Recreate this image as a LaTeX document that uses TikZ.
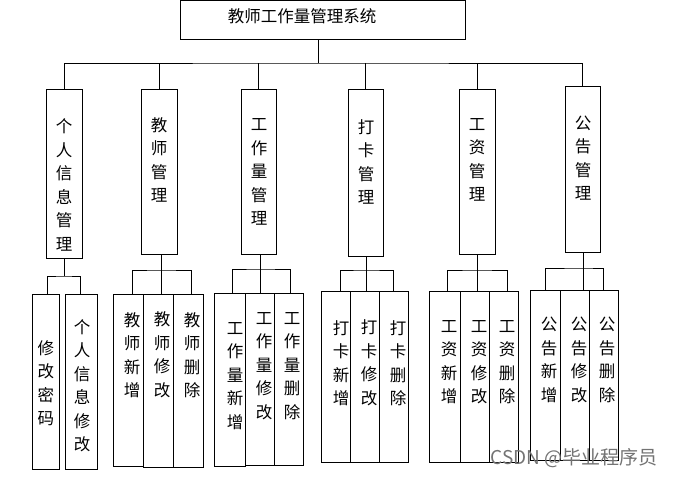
\documentclass[tikz,border=0pt]{standalone}
\usepackage{fontspec}
\setmainfont{Noto Sans CJK SC}
\newfontfamily\wm{Noto Sans CJK SC}
\begin{document}
\begin{tikzpicture}[x=1pt,y=-1pt,
  bx/.style={draw,line width=0.9pt,inner sep=0pt},
  lbl/.style={font=\fontsize{16.5}{23.5}\selectfont,align=center,inner sep=0pt},
  ln/.style={line width=0.9pt}]
\useasboundingbox (0,0) rectangle (675,478);
\newcommand\bxx[6]{%
  \node[bx,minimum width={#4-#2},minimum height={#5-#3}] (#1) at ({(#2+#4)/2},{(#3+#5)/2}) {};}
% root
\bxx{root}{180}{0}{465}{39}{}
\node[lbl] (rt) at (302,16) {教师工作量管理系统};
% level 1
\bxx{a}{46}{89}{82}{258}{}
\bxx{b}{141}{89}{177}{254}{}
\bxx{c}{241}{89}{276}{254}{}
\bxx{d}{348}{89}{383}{256}{}
\bxx{e}{459}{89}{495}{254}{}
\bxx{f}{565}{86}{600}{252}{}
\node[lbl] (at) at (64,185) {个\\人\\信\\息\\管\\理};
\node[lbl] (bt) at (159,160) {教\\师\\管\\理};
\node[lbl] (ct) at (259,172) {工\\作\\量\\管\\理};
\node[lbl] (dt) at (366,162) {打\\卡\\管\\理};
\node[lbl] (et) at (477,160) {工\\资\\管\\理};
\node[lbl] (ft) at (583,158) {公\\告\\管\\理};
% bar from root
\coordinate (r0) at (318,63);
\draw[ln] (root.south -| r0) -- (r0);
\draw[ln] (a.north) |- (r0) -| (f.north);
\foreach \n in {b,c,d,e} \draw[ln] (\n.north) -- (\n.north |- r0);
% level 2
\bxx{a1}{32}{294}{59}{469}{}
\bxx{a2}{65}{294}{97}{469}{}
\bxx{b1}{113}{294}{143}{466}{}
\bxx{b2}{143}{294}{173}{467}{}
\bxx{b3}{173}{294}{203}{467}{}
\bxx{c1}{214}{293}{245}{466}{}
\bxx{c2}{245}{293}{274}{465}{}
\bxx{c3}{274}{293}{303}{465}{}
\bxx{d1}{321}{291}{350}{462}{}
\bxx{d2}{350}{291}{379}{462}{}
\bxx{d3}{379}{291}{408}{462}{}
\bxx{e1}{429}{291}{460}{462}{}
\bxx{e2}{460}{291}{489}{462}{}
\bxx{e3}{489}{291}{518}{462}{}
\bxx{f1}{530}{290}{560}{460}{}
\bxx{f2}{560}{290}{589}{460}{}
\bxx{f3}{589}{290}{618}{460}{}
\node[lbl] at (46,383) {修\\改\\密\\码};
\node[lbl] at (82,386) {个\\人\\信\\息\\修\\改};
\node[lbl] at (132,355) {教\\师\\新\\增};
\node[lbl] at (162,355) {教\\师\\修\\改};
\node[lbl] at (192,355) {教\\师\\删\\除};
\node[lbl] at (235,376) {工\\作\\量\\新\\增};
\node[lbl] at (264,366) {工\\作\\量\\修\\改};
\node[lbl] at (292,366) {工\\作\\量\\删\\除};
\node[lbl] at (341,363) {打\\卡\\新\\增};
\node[lbl] at (369,363) {打\\卡\\修\\改};
\node[lbl] at (398,363) {打\\卡\\删\\除};
\node[lbl] at (449,362) {工\\资\\新\\增};
\node[lbl] at (479,362) {工\\资\\修\\改};
\node[lbl] at (507,362) {工\\资\\删\\除};
\node[lbl] at (549,360) {公\\告\\新\\增};
\node[lbl] at (579,360) {公\\告\\修\\改};
\node[lbl] at (607,360) {公\\告\\删\\除};
% level-2 connectors
\coordinate (ja) at (64,276);
\draw[ln] (ja |- a.south) -- (ja);
\draw[ln] (47,294) |- (ja) -| (80,294);
\coordinate (jb) at (161,270);
\draw[ln] (jb |- b.south) -- (b2.north -| jb);
\draw[ln] (132,294) |- (jb) -| (191,294);
\coordinate (jc) at (260,269);
\draw[ln] (jc |- c.south) -- (c2.north -| jc);
\draw[ln] (232,293) |- (jc) -| (290,293);
\coordinate (jd) at (366,270);
\draw[ln] (jd |- d.south) -- (d2.north -| jd);
\draw[ln] (340,291) |- (jd) -| (393,291);
\coordinate (je) at (477,270);
\draw[ln] (je |- e.south) -- (e2.north -| je);
\draw[ln] (447,291) |- (je) -| (507,291);
\coordinate (jf) at (583,268);
\draw[ln] (jf |- f.south) -- (f2.north -| jf);
\draw[ln] (545,290) |- (jf) -| (603,290);
\node[font=\wm\fontsize{19}{21}\selectfont,text=black!55,inner sep=0pt] (wmk) at (574,458) {CSDN @毕业程序员};
\end{tikzpicture}
\end{document}
